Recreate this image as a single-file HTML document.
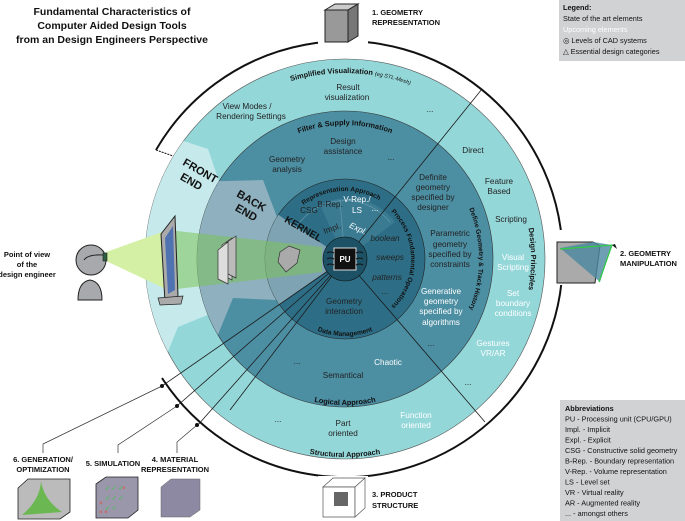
<!DOCTYPE html>
<html><head><meta charset="utf-8"><style>
html,body{margin:0;padding:0;background:#fff;}
svg{display:block;font-family:"Liberation Sans",sans-serif;}
.t{font-size:8.2px;fill:#222;text-anchor:middle;}
.w{fill:#fff;}
.b{font-weight:bold;}
.ring{font-size:7.4px;font-weight:bold;fill:#111;}
.ri{font-size:6.6px;font-weight:bold;fill:#111;}
</style></head><body>
<svg width="685" height="521" viewBox="0 0 685 521" xmlns="http://www.w3.org/2000/svg">
<defs>
<clipPath id="c1"><circle cx="345" cy="259" r="200"/></clipPath>
<clipPath id="c2"><circle cx="345" cy="259" r="148"/></clipPath>
<clipPath id="c3"><circle cx="345" cy="259" r="80"/></clipPath>
<path id="pTop186" d="M159,259 A186,186 0 0 1 531,259"/>
<path id="pTop134" d="M211,259 A134,134 0 0 1 479,259"/>
<path id="pTop68" d="M277,259 A68,68 0 0 1 413,259"/>
<path id="pBot77" d="M268,259 A77,77 0 0 0 422,259"/>
<path id="pBot146" d="M199,259 A146,146 0 0 0 491,259"/>
<path id="pBot198" d="M147,259 A198,198 0 0 0 543,259"/>
<path id="pR66" d="M345,193 A66,66 0 0 1 345,325"/>
<path id="pR134" d="M345,125 A134,134 0 0 1 345,393"/>
<path id="pR186" d="M345,73 A186,186 0 0 1 345,445"/>
</defs>

<path d="M156,150 A218,218 0 1 1 162,378" fill="none" stroke="#111" stroke-width="2"/>
<line x1="156" y1="150" x2="176" y2="157" stroke="#111" stroke-width="1" stroke-dasharray="2,1"/>

<circle cx="345" cy="259" r="200" fill="#94d7d9" stroke="#555" stroke-width="0.6"/>
<polygon clip-path="url(#c1)" points="120,120 208,149 222,190 345,259 217,337 178,327 140,420 100,420 100,120" fill="#c6eaeb"/>
<polygon clip-path="url(#c1)" points="345,259 178,327 182,370 205,380" fill="#94d7d9"/>
<circle cx="345" cy="259" r="148" fill="#4c8ea2" stroke="#333" stroke-width="0.6"/>
<polygon clip-path="url(#c2)" points="150,183 263,180 277,217 345,259 277,300 233,298 217,337 150,337" fill="#8fb0bf"/>
<circle cx="345" cy="259" r="80" fill="#2d6e86" stroke="#222" stroke-width="0.6"/>
<polygon clip-path="url(#c3)" points="250,195 283,218 345,259 283,302 250,320" fill="#7ea3b2"/>
<path d="M345,259 L320,205 A59,59 0 0 1 395,222 Z" fill="#3a7b92" clip-path="url(#c3)"/>
<path d="M300,222 A58,58 0 0 1 390,222" fill="none" stroke="#6a9aae" stroke-width="0.6"/>
<line x1="345" y1="259" x2="340" y2="200" stroke="#6a9aae" stroke-width="0.6"/>

<polygon points="106,252 106,261 168,290 168,230" fill="#d4f0a5"/>
<polygon points="168,230 322,247 322,272 168,290" fill="#7cc35a" opacity="0.55"/>

<g stroke="#1a1a1a" stroke-width="0.8">
<line x1="345" y1="259" x2="482" y2="89"/>
<line x1="345" y1="259" x2="485" y2="422"/>
<line x1="345" y1="259" x2="162" y2="386"/>
<line x1="345" y1="259" x2="177" y2="406"/>
<line x1="345" y1="259" x2="197" y2="426"/>
<line x1="345" y1="259" x2="230" y2="410"/>
</g>
<circle cx="345" cy="259" r="22" fill="#1d5266" stroke="#111" stroke-width="0.6"/>
<rect x="334" y="248" width="22" height="22" fill="#111" stroke="#ddd" stroke-width="1"/>
<text x="345" y="262" class="b" style="font-size:8px;fill:#fff;text-anchor:middle">PU</text>
<g stroke="#111" stroke-width="1" fill="none">
<path d="M334,253 q-4,-2 -7,0 M334,259 q-4,-2 -7,0 M334,265 q-4,-2 -7,0 M356,253 q4,-2 7,0 M356,259 q4,-2 7,0 M356,265 q4,-2 7,0"/>
</g>

<text class="ring"><textPath href="#pTop186" startOffset="51%" text-anchor="middle">Simplified Visualization <tspan style="font-size:5.5px;font-style:italic;font-weight:normal">(eg STL-Mesh)</tspan></textPath></text>
<text class="ring"><textPath href="#pTop134" startOffset="50%" text-anchor="middle">Filter &amp; Supply Information</textPath></text>
<text class="ri"><textPath href="#pTop68" startOffset="48%" text-anchor="middle">Representation Approach</textPath></text>
<text class="ri"><textPath href="#pBot77" startOffset="50%" text-anchor="middle">Data Management</textPath></text>
<text class="ring"><textPath href="#pBot146" startOffset="50%" text-anchor="middle">Logical Approach</textPath></text>
<text class="ring"><textPath href="#pBot198" startOffset="50%" text-anchor="middle">Structural Approach</textPath></text>
<text class="ri"><textPath href="#pR66" startOffset="50%" text-anchor="middle">Process Fundamental Operations</textPath></text>
<text class="ri"><textPath href="#pR134" startOffset="50%" text-anchor="middle">Define Geometry &amp; Track History</textPath></text>
<text class="ring"><textPath href="#pR186" startOffset="50%" text-anchor="middle">Design Principles</textPath></text>

<g class="t">
<text x="247" y="109">View Modes /</text><text x="251" y="119">Rendering Settings</text>
<text x="348" y="90">Result</text><text x="347" y="100">visualization</text>
<text x="430" y="112">...</text>
<text x="343" y="144">Design</text><text x="343" y="154">assistance</text>
<text x="287" y="162">Geometry</text><text x="287" y="172">analysis</text>
<text x="391" y="160">...</text>
<text x="433" y="180">Definite</text><text x="433" y="190">geometry</text><text x="433" y="200">specified  by</text><text x="433" y="210">designer</text>
<text x="473" y="153">Direct</text>
<text x="499" y="184">Feature</text><text x="499" y="194">Based</text>
<text x="511" y="222">Scripting</text>
<text x="513" y="260" class="w">Visual</text><text x="513" y="270" class="w">Scripting</text>
<text x="513" y="296" class="w">Set</text><text x="513" y="306" class="w">boundary</text><text x="513" y="316" class="w">conditions</text>
<text x="493" y="346" class="w">Gestures</text><text x="493" y="356" class="w">VR/AR</text>
<text x="468" y="385">...</text>
<text x="450" y="236">Parametric</text><text x="450" y="247">geometry</text><text x="450" y="257">specified  by</text><text x="450" y="267">constraints</text>
<text x="441" y="294" class="w">Generative</text><text x="441" y="304" class="w">geometry</text><text x="441" y="314" class="w">specified  by</text><text x="441" y="325" class="w">algorithms</text>
<text x="431" y="346">...</text>
<text x="309" y="213">CSG</text><text x="330" y="207">B-Rep.</text>
<text x="357" y="202" class="w">V-Rep./</text><text x="357" y="213" class="w">LS</text>
<text x="375" y="211" class="w">...</text>
<text x="333" y="231" transform="rotate(-20 333 231)">Impl.</text>
<text x="357" y="231" class="w" style="font-style:italic" transform="rotate(25 357 231)">Expl.</text>
<text x="385" y="241" style="font-style:italic">boolean</text>
<text x="390" y="260" style="font-style:italic">sweeps</text>
<text x="387" y="280" style="font-style:italic">patterns</text>
<text x="385" y="294">...</text>
<text x="344" y="304">Geometry</text><text x="344" y="314">interaction</text>
<text x="297" y="364">...</text>
<text x="388" y="365" class="w">Chaotic</text>
<text x="343" y="378">Semantical</text>
<text x="278" y="422">...</text>
<text x="343" y="426">Part</text><text x="343" y="436">oriented</text>
<text x="416" y="418" class="w">Function</text><text x="416" y="428" class="w">oriented</text>
</g>
<g class="b" style="font-size:11px;fill:#111">
<text x="180" y="172" transform="rotate(30 195 172)">FRONT</text>
<text x="178" y="184" transform="rotate(30 188 184)">END</text>
<text x="234" y="203" transform="rotate(30 248 203)">BACK</text>
<text x="233" y="215" transform="rotate(30 243 215)">END</text>
<text x="281" y="232" transform="rotate(30 302 232)" style="font-size:10px">KERNEL</text>
</g>

<polygon points="161,234 175,216 178,296 165,302" fill="#aaa" stroke="#222" stroke-width="1"/>
<polygon points="165,238 173,226 175,290 168,294" fill="#4f73b0"/>
<polygon points="158,298 183,296 181,304 160,305" fill="#aaa" stroke="#222" stroke-width="0.7"/>
<polygon points="222,245 232,238 232,280 222,275" fill="#ccc" stroke="#333" stroke-width="0.7"/>
<polygon points="226,243 236,236 236,278 226,273" fill="#bbb" stroke="#333" stroke-width="0.7"/>
<polygon points="218,250 228,242 228,284 218,279" fill="#ddd" stroke="#333" stroke-width="0.7"/>
<polygon points="280,252 289,246 300,250 297,263 286,272 278,262" fill="#aaa" stroke="#333" stroke-width="0.7"/>

<path d="M78,300 Q78,282 90,280 Q102,282 102,300 Z" fill="#a8a9ad" stroke="#222" stroke-width="1"/>
<circle cx="91" cy="260" r="15" fill="#a8a9ad" stroke="#222" stroke-width="1"/>
<path d="M84,260 q4,-6 20,-5" fill="none" stroke="#222" stroke-width="1"/>
<rect x="103" y="253" width="4" height="8" fill="#2d5e40" stroke="#222" stroke-width="0.6"/>
<g class="b" style="font-size:7.5px;fill:#111;text-anchor:middle">
<text x="27" y="257">Point of view</text><text x="27" y="267">of the</text><text x="27" y="277">design engineer</text>
</g>

<g class="b" style="font-size:10.5px;fill:#111;text-anchor:middle">
<text x="112" y="15">Fundamental Characteristics of</text>
<text x="112" y="29">Computer Aided Design Tools</text>
<text x="112" y="43">from an  Design Engineers Perspective</text>
</g>

<rect x="318" y="0" width="50" height="48" fill="#fff"/>
<polygon points="325,10 335,4 358,4 348,10" fill="#ccc" stroke="#222" stroke-width="1"/>
<polygon points="325,10 348,10 348,42 325,42" fill="#999" stroke="#222" stroke-width="1"/>
<polygon points="348,10 358,4 358,36 348,42" fill="#777" stroke="#222" stroke-width="1"/>
<g class="b" style="font-size:7.5px;fill:#111"><text x="372" y="15">1. GEOMETRY</text><text x="372" y="25">REPRESENTATION</text></g>

<rect x="555" y="230" width="55" height="55" fill="#fff"/>
<polygon points="557,242 593,242 600,246 595,283 557,283" fill="#aaa" stroke="#222" stroke-width="1"/>
<polygon points="560,248 593,242 612,245 600,282" fill="#4a87a0" opacity="0.8"/>
<polyline points="560,249 612,245 599,282" fill="none" stroke="#2ecc40" stroke-width="1.2"/>
<g class="b" style="font-size:7.5px;fill:#111"><text x="620" y="256">2. GEOMETRY</text><text x="620" y="266">MANIPULATION</text></g>
<path d="M612,245 l5,4 l-2,-5 z" fill="#111"/>

<rect x="318" y="476" width="50" height="45" fill="#fff"/>
<polygon points="323,487 333,478 365,478 355,487" fill="#fff" stroke="#555" stroke-width="0.7"/>
<polygon points="323,487 355,487 355,517 323,517" fill="#fff" stroke="#555" stroke-width="0.7"/>
<polygon points="355,487 365,478 365,508 355,517" fill="#fff" stroke="#555" stroke-width="0.7"/>
<polygon points="334,492 348,492 348,506 334,506" fill="#666"/>
<g class="b" style="font-size:7.5px;fill:#111"><text x="372" y="497">3. PRODUCT</text><text x="372" y="508">STRUCTURE</text></g>

<g stroke="#333" stroke-width="0.7" fill="none">
<polyline points="162,386 43,444 43,453"/>
<polyline points="177,406 118,445 118,453"/>
<polyline points="197,425 177,442 177,453"/>
</g>
<circle cx="162" cy="386" r="2" fill="#111"/><circle cx="177" cy="406" r="2" fill="#111"/><circle cx="197" cy="425" r="2" fill="#111"/>
<g class="b" style="font-size:7.5px;fill:#111;text-anchor:middle">
<text x="43" y="462">6. GENERATION/</text><text x="43" y="472">OPTIMIZATION</text>
<text x="113" y="466">5. SIMULATION</text>
<text x="175" y="462">4. MATERIAL</text><text x="175" y="472">REPRESENTATION</text>
</g>
<polygon points="18,488 28,479 70,479 70,512 60,519 18,519" fill="#bbb" stroke="#222" stroke-width="0.8"/>
<path d="M22,515 Q40,500 41,481 Q44,500 62,512 Z" fill="#58b83a" opacity="0.8"/>
<polygon points="96,484 106,477 138,477 138,510 128,518 96,518" fill="#9b97ab" stroke="#222" stroke-width="0.8"/>
<g style="font-size:6px;fill:#2ecc40"><text x="105" y="490">✓ ✓ ✓</text><text x="105" y="500">✓ ✓ ✓</text><text x="105" y="510">✓ ✓</text></g>
<g style="font-size:6px;fill:#e8472a"><text x="99" y="505">×</text><text x="99" y="514">× ×</text><text x="122" y="490">×</text></g>
<polygon points="161,487 171,479 200,479 200,510 190,517 161,517" fill="#8d89a3" stroke="#666" stroke-width="0.5"/>

<rect x="559" y="0" width="126" height="61" fill="#d1d2d4"/>
<g style="font-size:7.3px;fill:#111">
<text x="563" y="10" class="b">Legend:</text>
<text x="563" y="21">State of the art elements</text>
<text x="563" y="32" style="fill:#fff">Upcoming elements</text>
<text x="563" y="43">◎ Levels of CAD systems</text>
<text x="563" y="54">△ Essential design categories</text>
</g>
<rect x="560" y="400" width="125" height="121" fill="#d1d2d4"/>
<g style="font-size:7.3px;fill:#111">
<text x="565" y="411" class="b">Abbreviations</text>
<text x="565" y="421.5">PU - Processing unit (CPU/GPU)</text>
<text x="565" y="432">Impl. - Implicit</text>
<text x="565" y="442.5">Expl. - Explicit</text>
<text x="565" y="453">CSG - Constructive solid geometry</text>
<text x="565" y="463.5">B-Rep. - Boundary representation</text>
<text x="565" y="474">V-Rep. - Volume representation</text>
<text x="565" y="484.5">LS - Level set</text>
<text x="565" y="495">VR - Virtual reality</text>
<text x="565" y="505.5">AR - Augmented reality</text>
<text x="565" y="516">... - amongst others</text>
</g>
</svg>
</body></html>
